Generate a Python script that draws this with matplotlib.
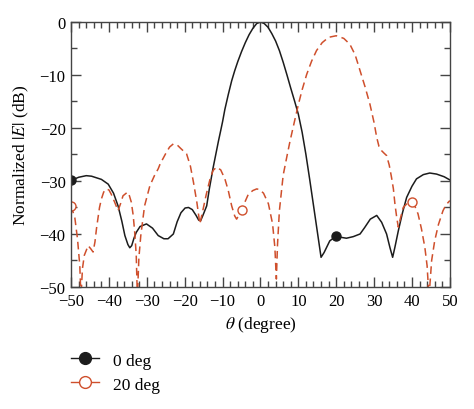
import numpy as np
import matplotlib
matplotlib.use("Agg")
import matplotlib.pyplot as plt
from matplotlib.lines import Line2D
from matplotlib.ticker import MultipleLocator

plt.rcParams['font.family'] = ['Liberation Serif', 'DejaVu Serif']
plt.rcParams['mathtext.fontset'] = 'stix'

# pattern steered to 0 deg
theta_0 = [-50, -48, -46, -44.6, -42, -40.2, -38.8, -37.6, -36.6, -35.8, -35, -34.5,
           -34, -33.4, -32.8, -31.8, -30.1, -28.5, -27, -25.5, -24.4, -23, -22,
           -21, -19.9, -19, -18, -17, -16.3, -15.8, -15.2, -14.2, -13.5, -13, -12.5,
           -11.8, -11.1, -10.5, -10, -9.4, -8.5, -7.6, -6.8, -6, -5, -4, -3, -2, -1,
           0, 1, 2, 3, 4, 5, 6, 7, 8, 9, 10, 11, 12, 13, 14, 15, 16, 16.8, 18.3, 20,
           21, 22.7, 24.5, 26.3, 27.5, 29, 30.7, 32, 33.3, 34.2, 34.9, 35.5, 36.4,
           37.5, 38.6, 40, 41.2, 43, 44.7, 46.5, 48.5, 50]
db_0 = [-29.9, -29.3, -29.0, -29.1, -29.7, -30.6, -32.3, -34.7, -37.6, -40.3, -42.0, -42.6,
        -42.2, -40.8, -39.7, -38.6, -38.1, -38.9, -40.3, -40.9, -40.9, -40.0, -37.7,
        -36.0, -35.1, -35.0, -35.4, -36.5, -37.4, -37.5, -36.5, -34.7, -31.5, -29.5, -27.5,
        -25.0, -22.5, -20.5, -18.8, -16.5, -13.7, -11.1, -9.2, -7.5, -5.6, -3.9, -2.4, -1.2, -0.3,
        0.0, -0.3, -1.0, -2.2, -3.6, -5.4, -7.6, -10.0, -12.5, -14.9, -17.4, -20.8, -25.0, -29.7,
        -34.6, -39.5, -44.4, -43.5, -41.3, -40.4,
        -40.6, -40.8, -40.5, -40.0, -38.8, -37.2, -36.5, -37.8, -40.0, -42.6, -44.4, -42.5, -39.4,
        -36.0, -33.1, -31.0, -29.6, -28.8, -28.5, -28.7, -29.2, -29.8]

# pattern steered to 20 deg
theta_20 = [-50, -49, -48.3, -47.7, -47.4, -47, -46.5, -45.5, -44.8, -44.2, -43.7, -43.3,
            -42.5, -42, -41.4, -40.7, -40, -39.4, -38.5, -37.6, -36.9, -36.3, -35.1,
            -34.6, -34.1, -33.6, -33.2, -32.8, -32.5, -32.1, -31.6, -30.6, -29.2, -28,
            -27, -26.5, -25, -24, -23, -22, -21, -19.5, -18.5, -17.7, -16.8, -16,
            -15.2, -14.3, -13.3, -12.5, -11.6, -10.5, -9.4, -8.5, -7.6, -6.8, -6.3,
            -5.5, -5, -4, -3.2, -2, -1, -0.3, 0.8, 2.1, 3.2, 3.8, 4.2, 4.5, 5, 6, 7,
            7.8, 9, 10, 11, 12.2, 13.5, 14.8, 16.3, 18, 20, 22, 23.6, 25, 26.3, 27.6,
            28.9, 30, 30.7, 31.3, 32, 32.7, 33.3, 34, 34.6, 35.1, 35.5, 36, 36.4, 36.9,
            37.7, 38.8, 40, 40.8, 41.6, 42.5, 43.4, 44, 44.5, 45.2, 46, 47, 48.2, 49, 50]
db_20 = [-34.7, -37.0, -41.0, -46.0, -52.0, -46.5, -44.0, -42.2, -42.8, -43.4, -41.5, -39.0,
         -35.0, -33.4, -32.1, -31.5, -31.7, -32.5, -34.0, -35.6, -34.2, -32.8, -32.1,
         -32.8, -34.0, -36.5, -39.7, -44.0, -52.0, -44.5, -40.3, -34.7, -30.9, -29.0,
         -27.7, -26.8, -24.8, -23.6, -23.0, -23.2, -23.9, -24.9, -27.2, -30.2, -34.0, -38.1,
         -35.5, -32.5, -29.6, -28.0, -27.4, -27.9, -29.6, -31.8, -34.7, -36.6, -37.2,
         -36.2, -35.4, -33.8, -32.5, -31.8, -31.5, -31.6, -32.3, -34.3, -38.1, -42.5, -48.5, -42.0, -35.6, -28.9, -25.3,
         -22.5, -18.7, -15.6, -12.8, -9.9, -7.4, -5.4, -3.9, -2.9, -2.6, -3.1, -4.2, -6.2, -9.2, -12.2,
         -15.5, -19.0, -21.8, -23.5, -24.3, -24.8, -25.2, -27.0, -29.3, -31.5, -34.3, -37.0, -38.7, -37.2,
         -35.0, -34.2, -34.0, -34.8, -36.2, -39.0, -42.5, -46.0, -52.0, -45.0, -41.3, -38.2, -35.6, -34.5, -33.7]

marks_0 = [-50, 20]
marks_20 = [-50, -5, 40]
labels = ["0 deg", "20 deg"]

black = '#1c1c1c'
red = '#cf4f2c'

fig = plt.figure(figsize=(4.74, 4.10), dpi=100)
ax = fig.add_axes([0.150, 0.2976, 0.799, 0.6464])

ax.plot(theta_0, db_0, color=black, lw=1.1,
        marker='o', ms=6.5, mfc=black, mec=black,
        markevery=[theta_0.index(t) for t in marks_0])
ax.plot(theta_20, db_20, color=red, lw=1.1, linestyle=(0, (5, 3)),
        marker='o', ms=6.5, mfc='white', mec=red, mew=1.0,
        markevery=[theta_20.index(t) for t in marks_20])

ax.set_xlim(-50, 50)
ax.set_ylim(-50, 0)
ax.xaxis.set_major_locator(MultipleLocator(10))
ax.xaxis.set_minor_locator(MultipleLocator(2))
ax.yaxis.set_major_locator(MultipleLocator(10))
ax.yaxis.set_minor_locator(MultipleLocator(5))
ax.tick_params(which='both', direction='in', top=True, right=True,
               color='#444444', labelsize=12, pad=4)
ax.tick_params(which='major', length=7, width=1)
ax.tick_params(which='minor', length=4, width=1)
for s in ax.spines.values():
    s.set_color('#444444')
    s.set_linewidth(1.0)

ax.set_xlabel(r'$\theta$ (degree)', fontsize=12.5, labelpad=4)
ax.set_ylabel(r'Normalized $|E|$ (dB)', fontsize=12.5, labelpad=6)

handles = [
    Line2D([], [], color=black, lw=1.0, marker='o', ms=8.5, mfc=black, mec=black),
    Line2D([], [], color=red, lw=1.0, marker='o', ms=8.5, mfc='white', mec=red),
]
fig.legend(handles, labels, loc='upper left', bbox_to_anchor=(0.15, 0.138),
           frameon=False, fontsize=12.5, handlelength=1.6, handletextpad=0.8,
           labelspacing=0.45, borderaxespad=0, borderpad=0)

fig.savefig('out.png', dpi=100)
